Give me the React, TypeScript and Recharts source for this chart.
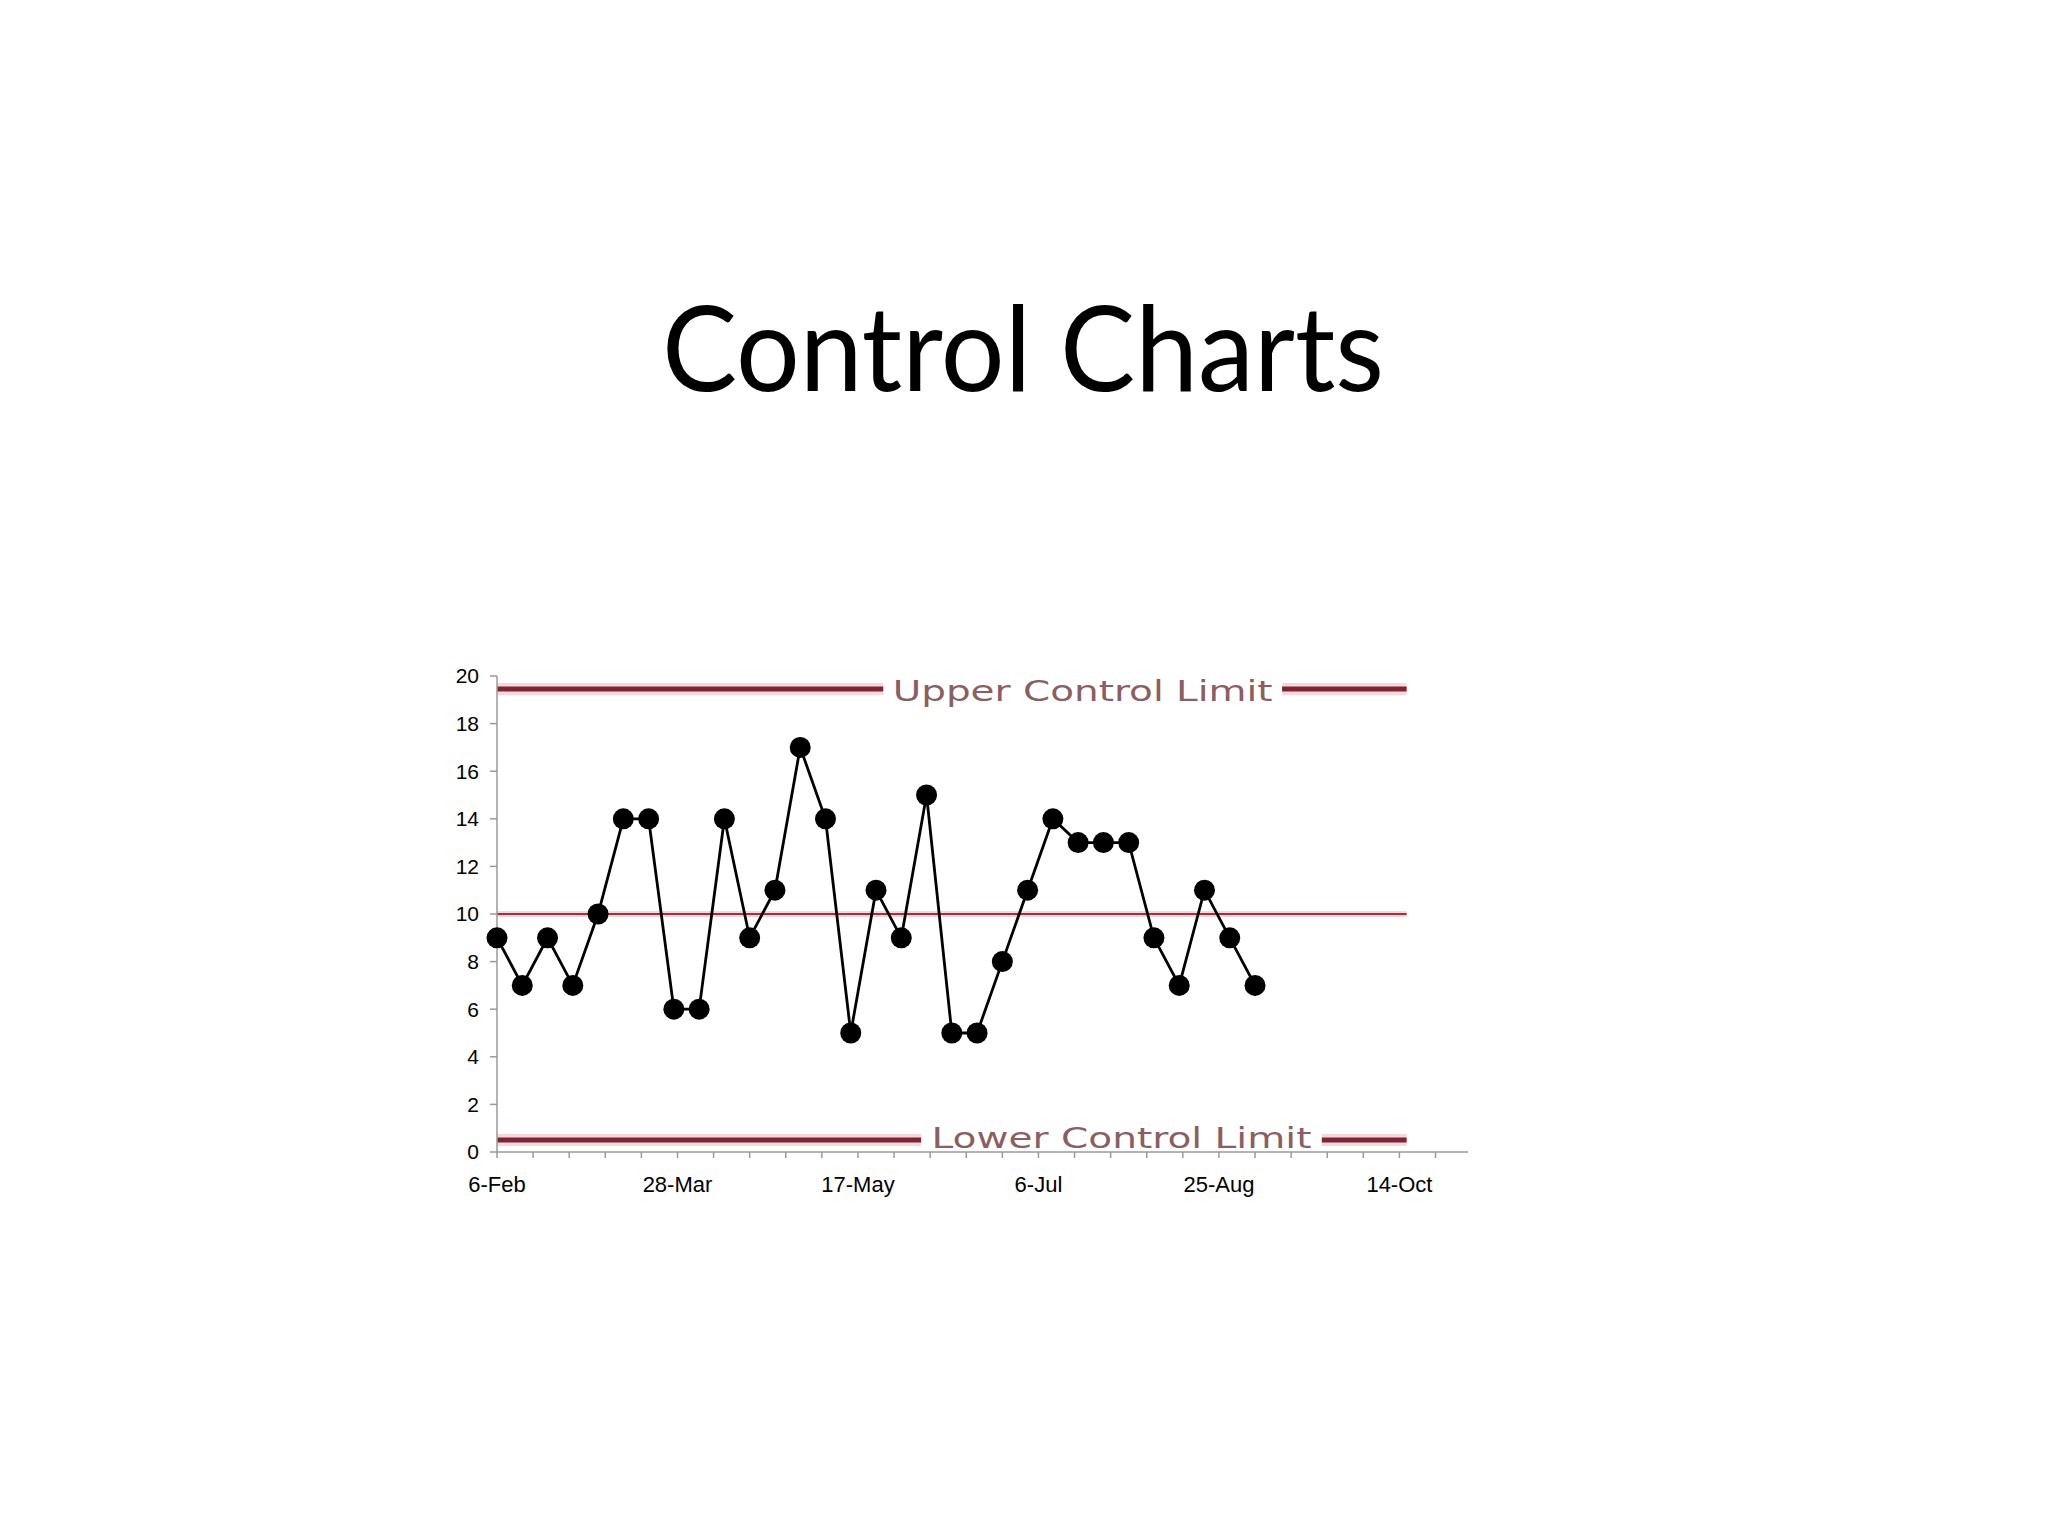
import React from 'react';
import { LineChart, Line, XAxis, YAxis, ReferenceLine } from 'recharts';

// Days since 6-Feb (weekly samples)
const sampleDays = [0, 7, 14, 21, 28, 35, 42, 49, 56, 63, 70, 77, 84, 91, 98, 105, 112, 119, 126, 133, 140, 147, 154, 161, 168, 175, 182, 189, 196, 203, 210];
const sampleValues = [9, 7, 9, 7, 10, 14, 14, 6, 6, 14, 9, 11, 17, 14, 5, 11, 9, 15, 5, 5, 8, 11, 14, 13, 13, 13, 9, 7, 11, 9, 7];

const xTicks = [0, 10, 20, 30, 40, 50, 60, 70, 80, 90, 100, 110, 120, 130, 140, 150, 160, 170, 180, 190, 200, 210, 220, 230, 240, 250, 260];
const xLabelDays = [0, 50, 100, 150, 200, 250];
const xLabels = ['6-Feb', '28-Mar', '17-May', '6-Jul', '25-Aug', '14-Oct'];
const yTicks = [0, 2, 4, 6, 8, 10, 12, 14, 16, 18, 20];

const upperLimit = 19.45;
const centerLine = 10;
const lowerLimit = 0.5;
const limitEnd = 252;
const uclGap = [107, 217.5];
const lclGap = [117.5, 228.5];
const uclText = 'Upper Control Limit';
const lclText = 'Lower Control Limit';

const data = sampleDays.map((d, i) => ({ day: d, value: sampleValues[i] }));

const LIMIT_DARK = '#7a2633';
const LIMIT_HALO = '#f3bcc4';

const makeLabel = (text: string, dy: number) => (props: any) => {
  const vb = props.viewBox || {};
  const cx = (vb.x || 0) + (vb.width || 0) / 2;
  const cy = vb.y || 0;
  return (
    <text
      x={cx}
      y={cy + dy}
      textAnchor="middle"
      fontFamily="'DejaVu Sans', sans-serif"
      fontSize={29}
      fill="#8a5f64"
      textLength={380}
      lengthAdjust="spacingAndGlyphs"
    >
      {text}
    </text>
  );
};

const limitSegments = (y: number, gap: number[], key: string) => {
  const segs = [
    [0, gap[0]],
    [gap[1], limitEnd],
  ];
  const out: any[] = [];
  segs.forEach((s, i) => {
    out.push(
      <ReferenceLine
        key={`${key}-h-${i}`}
        segment={[{ x: s[0], y }, { x: s[1], y }]}
        stroke={LIMIT_HALO}
        strokeWidth={12}
        strokeOpacity={0.6}
      />
    );
    out.push(
      <ReferenceLine
        key={`${key}-d-${i}`}
        segment={[{ x: s[0], y }, { x: s[1], y }]}
        stroke={LIMIT_DARK}
        strokeWidth={5}
      />
    );
  });
  return out;
};

export default function App() {
  const width = 2048;
  const height = 1536;
  const plotLeft = 497;
  const plotRight = 1468;
  const plotTop = 676;
  const plotBottom = 1152;
  const yAxisW = 60;
  const xAxisH = 60;

  return (
    <div style={{ position: 'absolute', left: 0, top: 0, width, height, background: '#ffffff', overflow: 'hidden' }}>
      <svg width={width} height={450} style={{ position: 'absolute', left: 0, top: 0 }}>
        <text
          x={1023}
          y={391}
          textAnchor="middle"
          fontFamily="Lato, 'Open Sans', sans-serif"
          fontSize={118}
          fill="#000"
          textLength={722}
          lengthAdjust="spacingAndGlyphs"
        >
          Control Charts
        </text>
      </svg>
      <div style={{ position: 'absolute', left: 0, top: 0 }}>
        <LineChart
          width={width}
          height={height}
          data={data}
          margin={{ top: plotTop, right: width - plotRight, left: plotLeft - yAxisW, bottom: height - plotBottom - xAxisH }}
        >
          <XAxis
            type="number"
            dataKey="day"
            domain={[0, 269]}
            ticks={xTicks}
            interval={0}
            height={xAxisH}
            tickSize={6}
            tickMargin={18}
            stroke="#9a9a9a"
            strokeWidth={1.5}
            tick={{ fill: '#000', fontSize: 22, fontFamily: "'Liberation Sans', Arial, sans-serif" }}
            tickFormatter={(v: number) => {
              const idx = xLabelDays.indexOf(v);
              return idx >= 0 ? xLabels[idx] : '';
            }}
          />
          <YAxis
            type="number"
            domain={[0, 20]}
            ticks={yTicks}
            interval={0}
            width={yAxisW}
            tickSize={7}
            tickMargin={11}
            stroke="#9a9a9a"
            strokeWidth={1.5}
            tick={{ fill: '#000', fontSize: 21, fontFamily: "'Liberation Sans', Arial, sans-serif" }}
          />
          {limitSegments(upperLimit, uclGap, 'ucl')}
          {limitSegments(lowerLimit, lclGap, 'lcl')}
          <ReferenceLine
            segment={[{ x: 0, y: centerLine }, { x: limitEnd, y: centerLine }]}
            stroke={LIMIT_HALO}
            strokeWidth={6}
            strokeOpacity={0.6}
          />
          <ReferenceLine
            segment={[{ x: 0, y: centerLine }, { x: limitEnd, y: centerLine }]}
            stroke="#a3303d"
            strokeWidth={2}
          />
          <ReferenceLine
            segment={[{ x: uclGap[0], y: upperLimit }, { x: uclGap[1], y: upperLimit }]}
            stroke="none"
            label={makeLabel(uclText, 12)}
          />
          <ReferenceLine
            segment={[{ x: lclGap[0], y: lowerLimit }, { x: lclGap[1], y: lowerLimit }]}
            stroke="none"
            label={makeLabel(lclText, 8)}
          />
          <Line
            type="linear"
            dataKey="value"
            stroke="#000"
            strokeWidth={2.8}
            dot={{ r: 10.5, fill: '#000', stroke: '#000', strokeWidth: 0 }}
            activeDot={false}
            isAnimationActive={false}
          />
        </LineChart>
      </div>
    </div>
  );
}
